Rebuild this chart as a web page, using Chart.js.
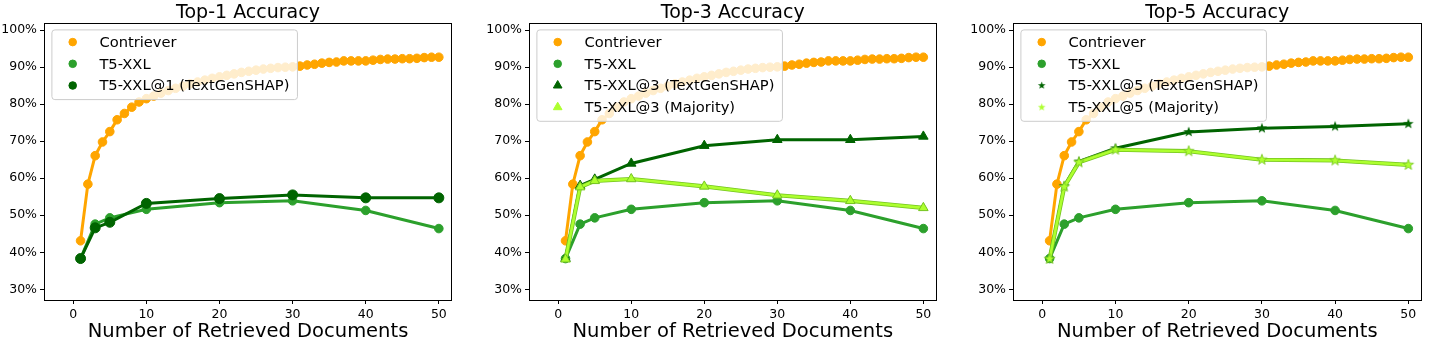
<!DOCTYPE html>
<html><head><meta charset="utf-8">
<script src="https://cdn.jsdelivr.net/npm/chart.js@4/dist/chart.umd.min.js"></script>
<style>
html,body{margin:0;padding:0;background:#fff;}
body{width:1431px;height:339px;overflow:hidden;position:relative;}
.p{position:absolute;top:0;height:339px;}
</style></head><body>
<div class="p" style="left:0px;width:458px"><canvas id="c1"></canvas></div>
<div class="p" style="left:485px;width:458px"><canvas id="c2"></canvas></div>
<div class="p" style="left:969px;width:459px"><canvas id="c3"></canvas></div>
<script>
// ---------- data ----------
const kSmall = [1, 3, 5, 10, 20, 30, 40, 50];
const kContriever = [1,2,3,4,5,6,7,8,9,10,11,12,13,14,15,16,17,18,19,20,21,22,23,24,25,26,27,28,29,30,31,32,33,34,35,36,37,38,39,40,41,42,43,44,45,46,47,48,49,50];
const contriever = [43.1,58.4,66.1,69.8,72.6,75.8,77.5,79.2,80.6,81.5,82.2,83.0,83.7,84.3,84.9,85.5,86.0,86.5,87.0,87.4,87.8,88.2,88.6,88.9,89.2,89.5,89.7,89.9,90.0,90.1,90.3,90.6,90.8,91.1,91.3,91.4,91.7,91.7,91.7,91.7,91.9,92.1,92.2,92.2,92.3,92.3,92.4,92.6,92.7,92.7];
const t5xxl = [38.3, 47.6, 49.3, 51.6, 53.4, 53.9, 51.3, 46.4];
const top1TextGenSHAP = [38.3, 46.6, 48.1, 53.2, 54.5, 55.5, 54.7, 54.7];
const top3TextGenSHAP = [38.3, 58.0, 59.7, 64.0, 68.8, 70.4, 70.4, 71.3];
const top3Majority = [38.1, 57.6, 59.3, 59.8, 57.8, 55.4, 53.9, 52.0];
const top5TextGenSHAP = [38.2, 57.9, 64.5, 68.1, 72.5, 73.5, 74.0, 74.7];
const top5Majority = [38.2, 57.7, 64.3, 67.7, 67.3, 65.0, 64.8, 63.6];
const yTickValues = [30, 40, 50, 60, 70, 80, 90, 100];
const xTickValues = [0, 10, 20, 30, 40, 50];
const panelTitles = ['Top-1 Accuracy', 'Top-3 Accuracy', 'Top-5 Accuracy'];
const xAxisLabel = 'Number of Retrieved Documents';
const labelContriever = 'Contriever';
const labelT5 = 'T5-XXL';
const labelTop1SHAP = 'T5-XXL@1 (TextGenSHAP)';
const labelTop3SHAP = 'T5-XXL@3 (TextGenSHAP)';
const labelTop3Maj = 'T5-XXL@3 (Majority)';
const labelTop5SHAP = 'T5-XXL@5 (TextGenSHAP)';
const labelTop5Maj = 'T5-XXL@5 (Majority)';

// ---------- styles ----------
const C_ORANGE = '#ffa500';
const C_GREEN = '#2ca02c';
const C_DARK = '#006400';
const C_LIGHT = '#adff2f';
const C_LIGHT_EDGE = '#74c41f';

Chart.defaults.font.family = '"DejaVu Sans", sans-serif';
Chart.defaults.color = '#000';

function starCanvas(color, r, edge) {
  const s = Math.ceil(r * 2 + 3);
  const c = document.createElement('canvas');
  c.width = s; c.height = s;
  const g = c.getContext('2d');
  g.fillStyle = color;
  g.beginPath();
  for (let i = 0; i < 10; i++) {
    const rr = i % 2 ? r * 0.42 : r;
    const a = -Math.PI / 2 + i * Math.PI / 5;
    g.lineTo(s / 2 + rr * Math.cos(a), s / 2 + rr * Math.sin(a));
  }
  g.closePath(); g.fill();
  if (edge) { g.strokeStyle = edge; g.lineWidth = 0.8; g.stroke(); }
  return c;
}

function pts(xs, ys) { return xs.map((x, i) => ({x: x, y: ys[i]})); }

function ds(label, xs, ys, color, style, radius, lw, edge) {
  return {
    label: label, data: pts(xs, ys),
    borderColor: color, backgroundColor: color,
    pointBackgroundColor: color, pointBorderColor: edge || color,
    pointStyle: style, pointRadius: radius, pointBorderWidth: 1,
    borderWidth: lw, tension: 0, fill: false, outline: edge || null
  };
}

// darker halo under a line (drawn from the dataset's own element positions)
const lineOutline = {
  id: 'lineOutline',
  beforeDatasetDraw(chart, args) {
    const dset = chart.data.datasets[args.index];
    if (!dset.outline) return;
    const pts = args.meta.data;
    const ctx = chart.ctx;
    ctx.save();
    ctx.strokeStyle = dset.outline; ctx.lineWidth = dset.borderWidth + 1.6;
    ctx.lineJoin = 'round';
    ctx.beginPath();
    pts.forEach((p, i) => { if (i === 0) ctx.moveTo(p.x, p.y); else ctx.lineTo(p.x, p.y); });
    ctx.stroke();
    ctx.restore();
  }
};

const boxLegend = {
  id: 'boxLegend',
  afterDatasetsDraw(chart, args, opts) {
    const ctx = chart.ctx, a = chart.chartArea;
    ctx.save();
    // spines
    ctx.strokeStyle = '#000'; ctx.lineWidth = 1;
    ctx.strokeRect(Math.round(a.left) + 0.5, Math.round(a.top) + 0.5,
                   Math.round(a.right) - Math.round(a.left) - 1, Math.round(a.bottom) - Math.round(a.top));
    // legend
    const items = opts.items || [];
    ctx.font = '14.7px "DejaVu Sans"';
    const tw = Math.max.apply(null, items.map(i => ctx.measureText(i.label).width));
    const x0 = a.left + 7.4, y0 = a.top + 6.6;
    const w = 48 + tw + 7.5, h = 4.6 + 21.7 * items.length;
    ctx.beginPath();
    ctx.roundRect(x0 + 0.5, y0 + 0.5, w, h, 3);
    ctx.fillStyle = 'rgba(255,255,255,0.8)';
    ctx.fill();
    ctx.strokeStyle = '#cccccc'; ctx.lineWidth = 1;
    ctx.stroke();
    items.forEach((it, i) => {
      const cy = y0 + 12.7 + 21.7 * i;
      ctx.fillStyle = it.color; ctx.strokeStyle = it.edge || it.color; ctx.lineWidth = 1;
      Chart.helpers.drawPoint(ctx, {pointStyle: it.style, radius: it.r, rotation: 0, borderWidth: 1}, x0 + 21.3, cy);
      ctx.fillStyle = '#000';
      ctx.textBaseline = 'middle'; ctx.textAlign = 'left';
      ctx.fillText(it.label, x0 + 48, cy + 1);
    });
    ctx.restore();
  }
};

function makeChart(id, title, datasets, legendItems) {
  return new Chart(document.getElementById(id), {
    type: 'line',
    data: {datasets: datasets},
    plugins: [lineOutline, boxLegend],
    options: {
      responsive: true, maintainAspectRatio: false, animation: false,
      devicePixelRatio: 1,
      layout: {padding: 0},
      plugins: {
        legend: {display: false},
        tooltip: {enabled: false},
        title: {display: true, text: title, fullSize: false, padding: {top: 1.5, bottom: -1.5},
                font: {size: 19, weight: 'normal', lineHeight: 1.2}, color: '#000'},
        boxLegend: {items: legendItems}
      },
      scales: {
        x: {
          type: 'linear', min: -4, max: 51.8,
          afterBuildTicks: s => { s.ticks = xTickValues.map(v => ({value: v})); },
          afterFit: s => { s.height = 39; },
          ticks: {font: {size: 12.5}, padding: 3, maxRotation: 0, autoSkip: false, color: '#000'},
          grid: {display: true, drawOnChartArea: false, drawTicks: true, tickLength: 4, tickColor: '#000', tickWidth: 1},
          border: {display: false},
          title: {display: true, text: xAxisLabel, font: {size: 19.5, lineHeight: 1.2}, padding: {top: 0, bottom: -4.5}, color: '#000'}
        },
        y: {
          type: 'linear', min: 27.1, max: 102,
          afterBuildTicks: s => { s.ticks = yTickValues.map(v => ({value: v})); },
          afterFit: s => { s.width = 44; },
          ticks: {font: {size: 12.5}, padding: 3, callback: v => v + '%', color: '#000'},
          grid: {display: true, drawOnChartArea: false, drawTicks: true, tickLength: 4, tickColor: '#000', tickWidth: 1},
          border: {display: false}
        }
      }
    }
  });
}

const star5Dark = starCanvas(C_DARK, 5.5);
const star5Light = starCanvas(C_LIGHT, 5.5, C_LIGHT_EDGE);
const star5DarkL = starCanvas(C_DARK, 4);
const star5LightL = starCanvas(C_LIGHT, 4);

// Panel 1
makeChart('c1', panelTitles[0], [
  ds(labelTop1SHAP, kSmall, top1TextGenSHAP, C_DARK, 'circle', 5, 3),
  ds(labelT5, kSmall, t5xxl, C_GREEN, 'circle', 4.3, 3),
  ds(labelContriever, kContriever, contriever, C_ORANGE, 'circle', 4.3, 3)
], [
  {label: labelContriever, color: C_ORANGE, style: 'circle', r: 3.8},
  {label: labelT5, color: C_GREEN, style: 'circle', r: 3.8},
  {label: labelTop1SHAP, color: C_DARK, style: 'circle', r: 3.8}
]);

// Panel 2
makeChart('c2', panelTitles[1], [
  ds(labelTop3Maj, kSmall, top3Majority, C_LIGHT, 'triangle', 5.5, 2.6, C_LIGHT_EDGE),
  ds(labelTop3SHAP, kSmall, top3TextGenSHAP, C_DARK, 'triangle', 5.5, 3),
  ds(labelT5, kSmall, t5xxl, C_GREEN, 'circle', 4.3, 3),
  ds(labelContriever, kContriever, contriever, C_ORANGE, 'circle', 4.3, 3)
], [
  {label: labelContriever, color: C_ORANGE, style: 'circle', r: 3.8},
  {label: labelT5, color: C_GREEN, style: 'circle', r: 3.8},
  {label: labelTop3SHAP, color: C_DARK, style: 'triangle', r: 5},
  {label: labelTop3Maj, color: C_LIGHT, style: 'triangle', r: 5}
]);

// Panel 3
makeChart('c3', panelTitles[2], [
  ds(labelTop5Maj, kSmall, top5Majority, C_LIGHT, star5Light, 5.5, 2.6, C_LIGHT_EDGE),
  ds(labelTop5SHAP, kSmall, top5TextGenSHAP, C_DARK, star5Dark, 5.5, 3),
  ds(labelT5, kSmall, t5xxl, C_GREEN, 'circle', 4.3, 3),
  ds(labelContriever, kContriever, contriever, C_ORANGE, 'circle', 4.3, 3)
], [
  {label: labelContriever, color: C_ORANGE, style: 'circle', r: 3.8},
  {label: labelT5, color: C_GREEN, style: 'circle', r: 3.8},
  {label: labelTop5SHAP, color: C_DARK, style: star5DarkL, r: 4},
  {label: labelTop5Maj, color: C_LIGHT, style: star5LightL, r: 4}
]);
</script>
</body></html>
